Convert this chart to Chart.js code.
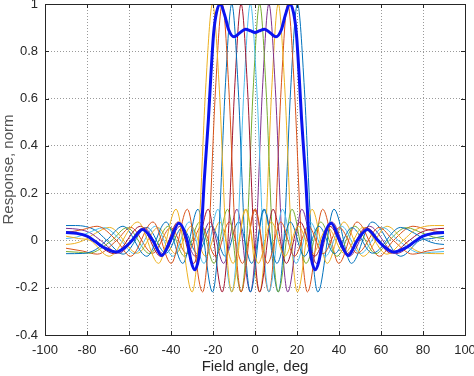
<!DOCTYPE html>
<html>
<head>
<meta charset="utf-8">
<script src="https://cdn.jsdelivr.net/npm/chart.js@4/dist/chart.umd.min.js"></script>
<style>
  html, body { margin: 0; padding: 0; background: #fff; }
  #wrap { position: relative; width: 474px; height: 376px; }
</style>
</head>
<body>
<div id="wrap"><canvas id="c"></canvas></div>
<script>
// ---- axis ticks ----
const xTicks = [-100, -80, -60, -40, -20, 0, 20, 40, 60, 80, 100];
const yTicks = [-0.4, -0.2, 0, 0.2, 0.4, 0.6, 0.8, 1];

// ---- thin beam curves (angle in deg, normalised response) ----
// beam 1, peak ~ +20.2 deg
const ang1 = [-90, -85.5, -76, -70.6, -62.81, -51.46, -42.43, -34.56, -27.38, -20.64, -14.19, -7.79, -1.55, 4.67, 11.07, 13.78, 16.97, 20.22, 23.54, 26.94, 29.95, 37.58, 45.92, 55.77, 69.44, 78.5, 84, 90];
const resp1 = [0.063, 0.063, 0.043, 0, -0.058, 0.055, -0.054, 0.054, -0.056, 0.060, -0.067, 0.078, -0.097, 0.132, -0.218, 0, 0.637, 1, 0.637, 0, -0.218, 0.132, -0.097, 0.078, -0.067, 0, 0.008, 0.018];
// beam 2, peak ~ +15.6 deg
const ang2 = [-90, -82, -75.1, -65.86, -59.19, -48.72, -40.1, -32.46, -25.43, -18.78, -12.26, -5.96, 0.26, 6.62, 9.29, 12.42, 15.59, 18.81, 22.1, 24.99, 32.21, 39.91, 48.59, 59.25, 65.95, 75.2, 82, 90];
const resp2 = [-0.033, -0.045, -0.058, 0, 0.055, -0.054, 0.054, -0.056, 0.060, -0.067, 0.078, -0.097, 0.132, -0.218, 0, 0.637, 1, 0.637, 0, -0.218, 0.132, -0.097, 0.078, -0.067, 0, 0.060, 0.046, 0.033];
// beam 3, peak ~ +11.1 deg
const ang3 = [-90, -86, -81.65, -76, -69.35, -55.92, -46.15, -37.84, -30.41, -23.5, -16.81, -10.41, -4.14, 2.2, 4.85, 7.95, 11.07, 14.22, 17.42, 20.22, 27.14, 34.38, 42.32, 51.51, 62.89, 70.7, 76.1, 82, 90];
const resp3 = [-0.017, -0.013, 0, 0.030, 0.055, -0.054, 0.054, -0.056, 0.060, -0.067, 0.078, -0.097, 0.132, -0.218, 0, 0.637, 1, 0.637, 0, -0.218, 0.132, -0.097, 0.078, -0.067, 0.060, 0, -0.040, -0.055, -0.056];
// beam 4, peak ~ +6.6 deg
const ang4 = [-90, -84, -78.5, -73.5, -64.84, -52.91, -43.66, -35.66, -28.39, -21.47, -14.92, -8.57, -2.2, 0.45, 3.53, 6.62, 9.72, 12.87, 15.6, 22.3, 29.2, 36.61, 44.9, 54.42, 67.03, 77, 80, 84, 90];
const resp4 = [0.051, 0.047, 0.032, 0, -0.054, 0.054, -0.056, 0.060, -0.067, 0.078, -0.097, 0.132, -0.218, 0, 0.637, 1, 0.637, 0, -0.218, 0.132, -0.097, 0.078, -0.067, 0.060, -0.056, 0, 0.017, 0.030, 0.037];
// beam 5, peak ~ +2.2 deg
const ang5 = [-90, -84, -79.09, -68.2, -61.0, -50.1, -41.27, -33.53, -26.28, -19.53, -13.05, -6.62, -3.96, -0.88, 2.2, 5.28, 8.38, 11.07, 17.61, 24.27, 31.31, 38.98, 47.43, 57.55, 63.84, 72.04, 80, 85, 90];
const resp5 = [-0.047, -0.050, -0.054, 0, 0.054, -0.056, 0.060, -0.067, 0.078, -0.097, 0.132, -0.218, 0, 0.637, 1, 0.637, 0, -0.218, 0.132, -0.097, 0.078, -0.067, 0.060, -0.056, 0, 0.054, 0.030, 0.014, 0.008];
// beam 6, peak ~ -2.2 deg
const ang6 = [-90, -85, -80, -72.04, -63.84, -57.55, -47.43, -38.98, -31.31, -24.27, -17.61, -11.07, -8.38, -5.28, -2.2, 0.88, 3.96, 6.62, 13.05, 19.53, 26.28, 33.53, 41.27, 50.1, 61.0, 68.2, 79.09, 84, 90];
const resp6 = [0.008, 0.014, 0.030, 0.054, 0, -0.056, 0.060, -0.067, 0.078, -0.097, 0.132, -0.218, 0, 0.637, 1, 0.637, 0, -0.218, 0.132, -0.097, 0.078, -0.067, 0.060, -0.056, 0.054, 0, -0.054, -0.050, -0.047];
// beam 7, peak ~ -6.6 deg
const ang7 = [-90, -84, -80, -77, -67.03, -54.42, -44.9, -36.61, -29.2, -22.3, -15.6, -12.87, -9.72, -6.62, -3.53, -0.45, 2.2, 8.57, 14.92, 21.47, 28.39, 35.66, 43.66, 52.91, 64.84, 73.5, 78.5, 84, 90];
const resp7 = [0.037, 0.030, 0.017, 0, -0.056, 0.060, -0.067, 0.078, -0.097, 0.132, -0.218, 0, 0.637, 1, 0.637, 0, -0.218, 0.132, -0.097, 0.078, -0.067, 0.060, -0.056, 0.054, -0.054, 0, 0.032, 0.047, 0.051];
// beam 8, peak ~ -11.1 deg
const ang8 = [-90, -82, -76.1, -70.7, -62.89, -51.51, -42.32, -34.38, -27.14, -20.22, -17.42, -14.22, -11.07, -7.95, -4.85, -2.2, 4.14, 10.41, 16.81, 23.5, 30.41, 37.84, 46.15, 55.92, 69.35, 76, 81.65, 86, 90];
const resp8 = [-0.056, -0.055, -0.040, 0, 0.060, -0.067, 0.078, -0.097, 0.132, -0.218, 0, 0.637, 1, 0.637, 0, -0.218, 0.132, -0.097, 0.078, -0.067, 0.060, -0.056, 0.054, -0.054, 0.055, 0.030, 0, -0.013, -0.017];
// beam 9, peak ~ -15.6 deg
const ang9 = [-90, -82, -75.2, -65.95, -59.25, -48.59, -39.91, -32.21, -24.99, -22.1, -18.81, -15.59, -12.42, -9.29, -6.62, -0.26, 5.96, 12.26, 18.78, 25.43, 32.46, 40.1, 48.72, 59.19, 65.86, 75.1, 82, 90];
const resp9 = [0.033, 0.046, 0.060, 0, -0.067, 0.078, -0.097, 0.132, -0.218, 0, 0.637, 1, 0.637, 0, -0.218, 0.132, -0.097, 0.078, -0.067, 0.060, -0.056, 0.054, -0.054, 0.055, 0, -0.058, -0.045, -0.033];
// beam 10, peak ~ -20.2 deg
const ang10 = [-90, -84, -78.5, -69.44, -55.77, -45.92, -37.58, -29.95, -26.94, -23.54, -20.22, -16.97, -13.78, -11.07, -4.67, 1.55, 7.79, 14.19, 20.64, 27.38, 34.56, 42.43, 51.46, 62.81, 70.6, 76, 85.5, 90];
const resp10 = [0.018, 0.008, 0, -0.067, 0.078, -0.097, 0.132, -0.218, 0, 0.637, 1, 0.637, 0, -0.218, 0.132, -0.097, 0.078, -0.067, 0.060, -0.056, 0.054, -0.054, 0.055, -0.058, 0, 0.043, 0.063, 0.063];

// ---- combined (thick) response ----
const sumAng = [-90,-85,-80,-76,-72,-66,-62,-58.5,-53.5,-48.7,-44.4,-40.3,-36.3,-32.3,-30.5,-28.7,-26.8,-25.8,-25,-24.2,-23.2,-22.2,-21,-19.7,-18.3,-16.5,-14.5,-12.5,-10,-7.5,-4.5,-2,0,2,4.5,7.5,10,12.5,14.5,16.5,18.3,19.7,21,22.2,23.2,24.2,25,25.8,26.8,28.7,30.5,32.3,36.3,40.3,44.4,48.7,53.5,58.5,62,66,72,76,80,85,90];
const sumResp = [0.034,0.030,0.018,-0.005,-0.030,-0.049,-0.030,0,0.046,0,-0.064,0,0.073,0,-0.085,-0.124,-0.075,0,0.12,0.25,0.38,0.51,0.70,0.876,0.965,1.0,0.955,0.89,0.861,0.876,0.893,0.886,0.879,0.886,0.893,0.876,0.861,0.89,0.955,1.0,0.965,0.876,0.70,0.51,0.38,0.25,0.12,0,-0.075,-0.124,-0.085,0,0.073,0,-0.064,0,0.046,0,-0.030,-0.049,-0.030,-0.005,0.018,0.030,0.034];

const beamAngles = [ang1, ang2, ang3, ang4, ang5, ang6, ang7, ang8, ang9, ang10];
const beamResps = [resp1, resp2, resp3, resp4, resp5, resp6, resp7, resp8, resp9, resp10];
const beamColors = ['#0072BD', '#D95319', '#EDB120', '#7E2F8E', '#77AC30', '#4DBEEE', '#A2142F', '#0072BD', '#D95319', '#EDB120'];

const toPts = (xs, ys) => xs.map((x, i) => ({ x: x, y: ys[i] }));

const datasets = [];
datasets.push({
  data: toPts(sumAng, sumResp),
  borderColor: '#0b14f0',
  borderWidth: 3,
  pointRadius: 0,
  cubicInterpolationMode: 'monotone',
  fill: false
});
for (let i = beamAngles.length - 1; i >= 0; i--) {
  datasets.push({
    data: toPts(beamAngles[i], beamResps[i]),
    borderColor: beamColors[i],
    borderWidth: 1,
    pointRadius: 0,
    cubicInterpolationMode: 'monotone',
    fill: false
  });
}

const FONT = '"Liberation Sans", Arial, Helvetica, sans-serif';
const TXT = '#262626';

const boxPlugin = {
  id: 'box',
  afterDraw(chart) {
    const { ctx, chartArea: a, scales } = chart;
    ctx.save();
    ctx.strokeStyle = '#262626';
    ctx.lineWidth = 1;
    ctx.setLineDash([]);
    ctx.strokeRect(Math.round(a.left) + 0.5, Math.round(a.top) + 0.5, Math.round(a.right - a.left), Math.round(a.bottom - a.top));
    ctx.beginPath();
    scales.x.ticks.forEach(t => {
      const px = Math.round(scales.x.getPixelForValue(t.value)) + 0.5;
      ctx.moveTo(px, a.bottom); ctx.lineTo(px, a.bottom - 4);
      ctx.moveTo(px, a.top); ctx.lineTo(px, a.top + 4);
    });
    scales.y.ticks.forEach(t => {
      const py = Math.round(scales.y.getPixelForValue(t.value)) + 0.5;
      ctx.moveTo(a.left, py); ctx.lineTo(a.left + 4, py);
      ctx.moveTo(a.right, py); ctx.lineTo(a.right - 4, py);
    });
    ctx.stroke();
    ctx.restore();
  }
};

new Chart(document.getElementById('c'), {
  type: 'line',
  data: { datasets },
  options: {
    responsive: true,
    maintainAspectRatio: false,
    animation: false,
    devicePixelRatio: 1,
    layout: { padding: { top: 4, right: 9, left: 0, bottom: 0 } },
    plugins: { legend: { display: false }, tooltip: { enabled: false } },
    scales: {
      x: {
        type: 'linear',
        min: xTicks[0], max: xTicks[xTicks.length - 1],
        afterBuildTicks: s => { s.ticks = xTicks.map(v => ({ value: v })); },
        afterFit: s => { s.height = 41; s.paddingLeft = 0; s.paddingRight = 0; },
        grid: { color: '#9a9a9a', lineWidth: 1, drawTicks: false },
        border: { display: false, dash: [1, 2] },
        ticks: { color: TXT, font: { family: FONT, size: 13 }, padding: 8, maxRotation: 0, autoSkip: false, callback: v => String(v) },
        title: { display: true, text: 'Field angle, deg', color: TXT, font: { family: FONT, size: 15 }, padding: { top: 0, bottom: 0 } }
      },
      y: {
        type: 'linear',
        min: yTicks[0], max: yTicks[yTicks.length - 1],
        afterBuildTicks: s => { s.ticks = yTicks.map(v => ({ value: v })); },
        afterFit: s => { s.width = 45; s.paddingTop = 0; s.paddingBottom = 0; },
        grid: { color: '#9a9a9a', lineWidth: 1, drawTicks: false },
        border: { display: false, dash: [1, 2] },
        ticks: { color: TXT, font: { family: FONT, size: 13 }, padding: 7, autoSkip: false, callback: v => String(Math.round(v * 10) / 10) },
        title: { display: true, text: 'Response, norm', color: '#555', font: { family: FONT, size: 15 }, padding: { top: 0, bottom: 0 } }
      }
    }
  },
  plugins: [boxPlugin]
});
</script>
</body>
</html>
